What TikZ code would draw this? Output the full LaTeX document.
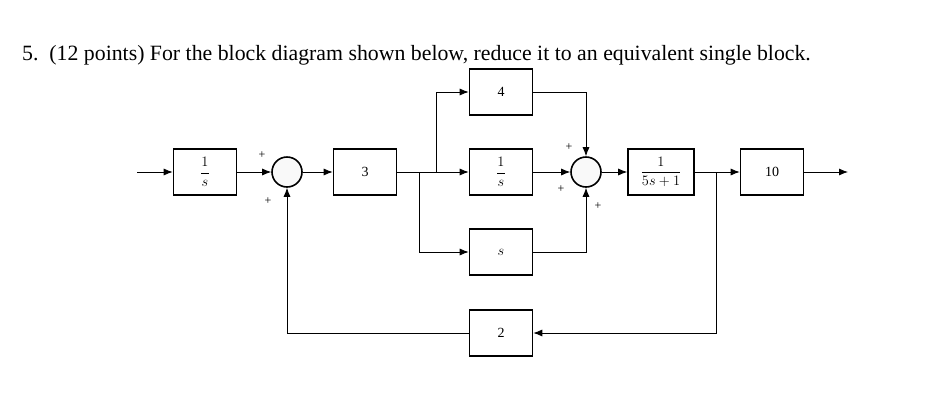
\documentclass[tikz,border=0pt]{standalone}
\usepackage{fontspec}
\setmainfont{Liberation Serif}
\usetikzlibrary{arrows.meta}
\begin{document}
\begin{tikzpicture}[x=1pt,y=-1pt,
 blk/.style={draw,line width=1.6pt,minimum width=63pt,minimum height=46pt,inner sep=0pt,font=\fontsize{14}{15}\selectfont},
 sum/.style={circle,draw,line width=1.6pt,minimum size=30pt,inner sep=0pt,fill=gray!5},
 sg/.style={font=\fontsize{12}{13}\selectfont,inner sep=0pt},
 w/.style={line width=0.8pt},
 a/.style={w,-{Latex[length=9pt,width=7pt]}}]
\useasboundingbox (0,0) rectangle (926,413);
\node[anchor=base west,font=\fontsize{21.8}{24}\selectfont,inner sep=0pt] (t) at (22,60) {5.\ \ (12 points) For the block diagram shown below, reduce it to an equivalent single block.};
\node[blk] (g1) at (205,172) {$\displaystyle\frac{1}{s}$};
\node[sum] (s1) at (287,172) {};
\node[blk] (g3) at (365,172) {3};
\node[blk] (g4) at (501,92) {4};
\node[blk] (gi) at (501,172) {$\displaystyle\frac{1}{s}$};
\node[blk] (gs) at (501,252) {$s$};
\node[sum] (s2) at (586,172) {};
\node[blk,minimum width=66pt] (g5) at (661,172) {$\displaystyle\frac{1}{5s+1}$};
\node[blk] (g10) at (772,172) {10};
\node[blk] (g2) at (501,333) {2};
\coordinate (in) at (137,172);
\coordinate (out) at (848,172);
\coordinate (b1) at (419,172);
\coordinate (b2) at (436,172);
\coordinate (b3) at (716,172);
\draw[a] (in) -- (g1);
\draw[a] (g1) -- (s1);
\draw[a] (s1) -- (g3);
\draw[a] (g3) -- (gi);
\draw[a] (b2) |- (g4);
\draw[a] (b1) |- (gs);
\draw[a] (g4) -| (s2);
\draw[a] (gi) -- (s2);
\draw[a] (gs) -| (s2);
\draw[a] (s2) -- (g5);
\draw[a] (g5) -- (g10);
\draw[a] (g10) -- (out);
\draw[a] (b3) |- (g2);
\draw[a] (g2) -| (s1);
\node[sg] at (262,155) {+};
\node[sg] at (268,201) {+};
\node[sg] at (569,147) {+};
\node[sg] at (561,189) {+};
\node[sg] at (598,206) {+};
\end{tikzpicture}
\end{document}
